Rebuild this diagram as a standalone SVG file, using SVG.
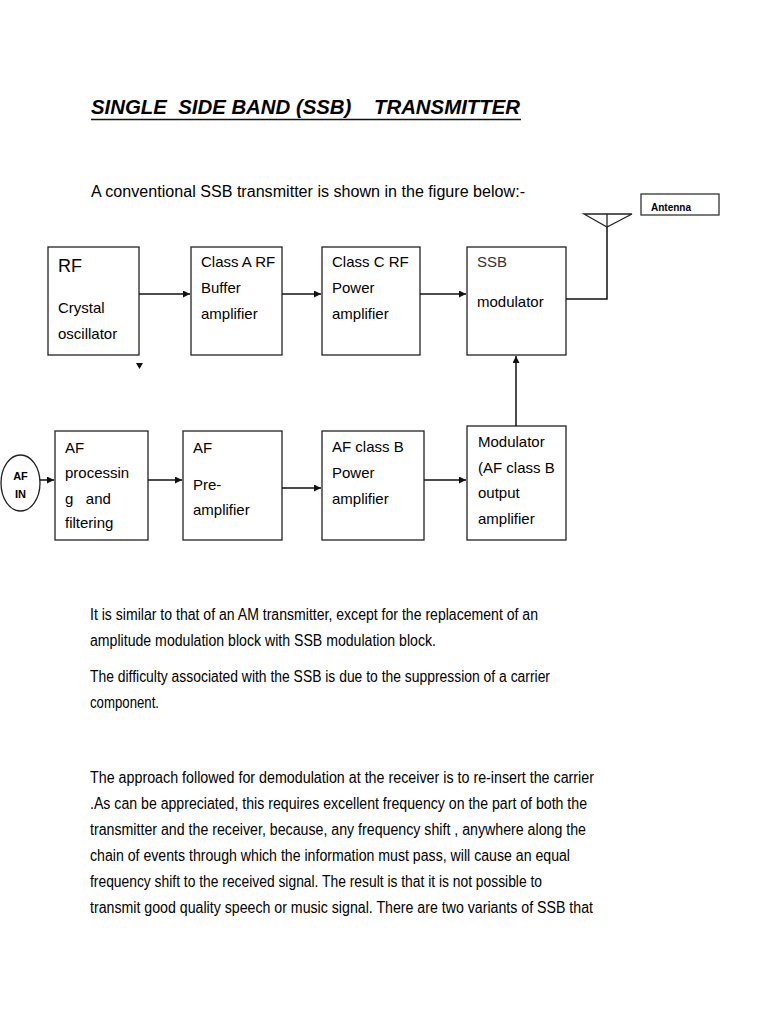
<svg xmlns="http://www.w3.org/2000/svg" width="768" height="1024" viewBox="0 0 768 1024">
<style>
  text { font-family: "Liberation Sans", Arial, sans-serif; fill: #000; }
  .box { fill: #fff; stroke: #222; stroke-width: 1.3; }
  .lbl { font-size: 15px; }
  .big { font-size: 18px; }
  .para { font-size: 16px; }
  .con { stroke: #111; stroke-width: 1.5; fill: none; }
  .ssb { fill: #333; }
</style>
<defs>
  <marker id="arr" viewBox="0 0 10 10" refX="10" refY="5" markerWidth="8" markerHeight="7" markerUnits="userSpaceOnUse" orient="auto">
    <path d="M0,0 L10,5 L0,10 Z" fill="#111"/>
  </marker>
</defs>
<rect width="768" height="1024" fill="#fff"/>

<g id="title">
  <text x="91" y="114" font-size="19.5" font-weight="bold" font-style="italic" textLength="429" lengthAdjust="spacingAndGlyphs" xml:space="preserve">SINGLE  SIDE BAND (SSB)    TRANSMITTER</text>
  <line x1="91" y1="119.5" x2="521" y2="119.5" stroke="#111" stroke-width="1.6"/>
</g>

<text class="para" x="91" y="197" textLength="434" lengthAdjust="spacingAndGlyphs">A conventional SSB transmitter is shown in the figure below:-</text>

<g id="antenna-label">
  <rect x="641" y="194" width="78" height="21" fill="#fff" stroke="#222" stroke-width="1.2"/>
  <text x="651" y="211" font-size="10" font-weight="bold">Antenna</text>
</g>

<g id="antenna">
  <path d="M584,214 L632,214 L607,227 Z M607,227 L607,214" fill="none" stroke="#222" stroke-width="1.3"/>
</g>

<g id="rf-osc">
  <rect class="box" x="48" y="247" width="91" height="108"/>
  <text class="big" x="58" y="272">RF</text>
  <text class="lbl" x="58" y="313">Crystal</text>
  <text class="lbl" x="58" y="339">oscillator</text>
</g>

<g id="class-a">
  <rect class="box" x="191" y="247" width="91" height="108"/>
  <text class="lbl" x="201" y="267">Class A RF</text>
  <text class="lbl" x="201" y="293">Buffer</text>
  <text class="lbl" x="201" y="319">amplifier</text>
</g>

<g id="class-c">
  <rect class="box" x="322" y="247" width="98" height="108"/>
  <text class="lbl" x="332" y="267">Class C RF</text>
  <text class="lbl" x="332" y="293">Power</text>
  <text class="lbl" x="332" y="319">amplifier</text>
</g>

<g id="ssb-mod">
  <rect class="box" x="467" y="247" width="99" height="108"/>
  <text class="lbl ssb" x="477" y="267">SSB</text>
  <text class="lbl" x="477" y="307">modulator</text>
</g>

<g id="marker">
  <polygon points="136,363 143,363 139.5,369" fill="#111"/>
</g>

<g id="af-in">
  <ellipse cx="20.5" cy="483" rx="19.5" ry="28" fill="#fff" stroke="#222" stroke-width="1.3"/>
  <text x="20.5" y="480" font-size="11" font-weight="bold" text-anchor="middle">AF</text>
  <text x="20.5" y="498" font-size="11" font-weight="bold" text-anchor="middle">IN</text>
</g>

<g id="af-proc">
  <rect class="box" x="55" y="431" width="93" height="109"/>
  <text class="lbl" x="65" y="453">AF</text>
  <text class="lbl" x="65" y="478">processin</text>
  <text class="lbl" x="65" y="504" xml:space="preserve">g   and</text>
  <text class="lbl" x="65" y="528">filtering</text>
</g>

<g id="af-pre">
  <rect class="box" x="183" y="431" width="99" height="109"/>
  <text class="lbl" x="193" y="453">AF</text>
  <text class="lbl" x="193" y="490">Pre-</text>
  <text class="lbl" x="193" y="515">amplifier</text>
</g>

<g id="af-classb">
  <rect class="box" x="322" y="431" width="102" height="109"/>
  <text class="lbl" x="332" y="452">AF class B</text>
  <text class="lbl" x="332" y="478">Power</text>
  <text class="lbl" x="332" y="504">amplifier</text>
</g>

<g id="modulator">
  <rect class="box" x="467" y="426" width="99" height="114"/>
  <text class="lbl" x="478" y="447">Modulator</text>
  <text class="lbl" x="478" y="473">(AF class B</text>
  <text class="lbl" x="478" y="498">output</text>
  <text class="lbl" x="478" y="524">amplifier</text>
</g>

<g id="connectors">
  <line class="con" x1="139" y1="294" x2="190" y2="294" marker-end="url(#arr)"/>
  <line class="con" x1="282" y1="294" x2="321" y2="294" marker-end="url(#arr)"/>
  <line class="con" x1="420" y1="294" x2="466" y2="294" marker-end="url(#arr)"/>
  <polyline class="con" points="566,299 607,299 607,227"/>
  <line class="con" x1="516" y1="426" x2="516" y2="356" marker-end="url(#arr)"/>
  <line class="con" x1="40" y1="480" x2="54" y2="480" marker-end="url(#arr)"/>
  <line class="con" x1="148" y1="480" x2="182" y2="480" marker-end="url(#arr)"/>
  <line class="con" x1="282" y1="488" x2="321" y2="488" marker-end="url(#arr)"/>
  <line class="con" x1="424" y1="480" x2="466" y2="480" marker-end="url(#arr)"/>
</g>

<g id="body-text">
  <text class="para" x="90" y="620" textLength="448" lengthAdjust="spacingAndGlyphs">It is similar to that of an AM transmitter, except for the replacement of an</text>
  <text class="para" x="90" y="646" textLength="346" lengthAdjust="spacingAndGlyphs">amplitude modulation block with SSB modulation block.</text>
  <text class="para" x="90" y="682" textLength="460" lengthAdjust="spacingAndGlyphs">The difficulty associated with the SSB is due to the suppression of a carrier</text>
  <text class="para" x="90" y="708" textLength="69" lengthAdjust="spacingAndGlyphs">component.</text>
  <text class="para" x="90" y="783" textLength="504" lengthAdjust="spacingAndGlyphs">The approach followed for demodulation at the receiver is to re-insert the carrier</text>
  <text class="para" x="90" y="809" textLength="497" lengthAdjust="spacingAndGlyphs">.As can be appreciated, this requires excellent frequency on the part of both the</text>
  <text class="para" x="90" y="835" textLength="496" lengthAdjust="spacingAndGlyphs">transmitter and the receiver, because, any frequency shift , anywhere along the</text>
  <text class="para" x="90" y="861" textLength="480" lengthAdjust="spacingAndGlyphs">chain of events through which the information must pass, will cause an equal</text>
  <text class="para" x="90" y="887" textLength="452" lengthAdjust="spacingAndGlyphs">frequency shift to the received signal. The result is that it is not possible to</text>
  <text class="para" x="90" y="913" textLength="503" lengthAdjust="spacingAndGlyphs">transmit good quality speech or music signal. There are two variants of SSB that</text>
</g>
</svg>
